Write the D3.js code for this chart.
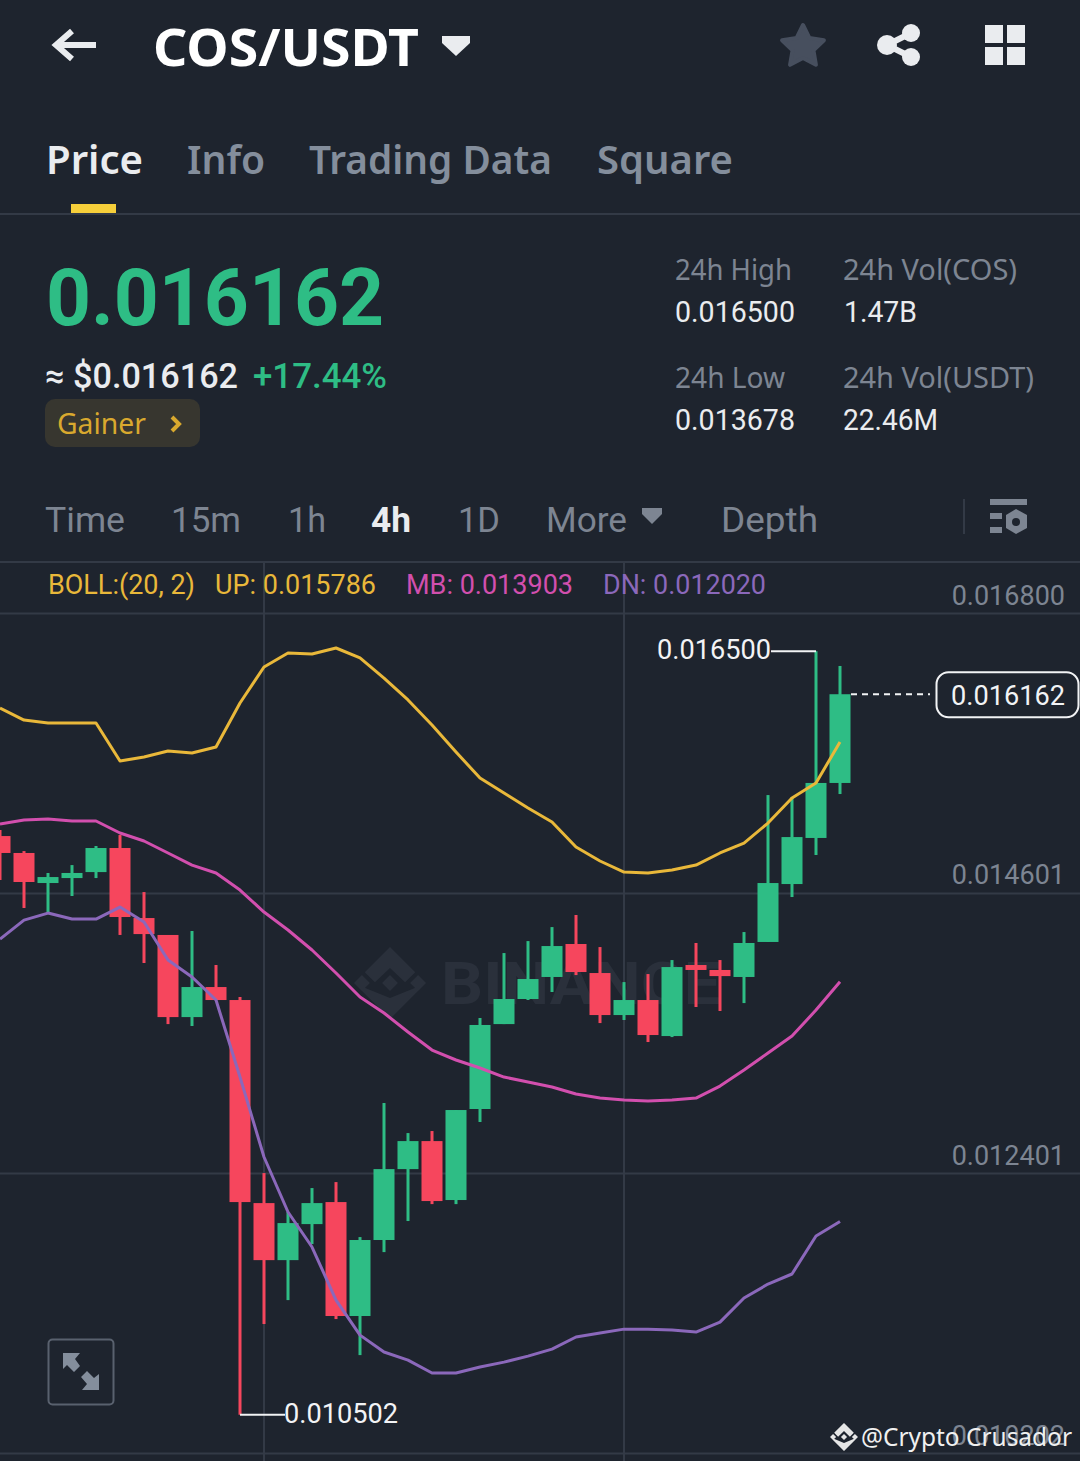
<!DOCTYPE html>
<html>
<head>
<meta charset="utf-8">
<title>COS/USDT</title>
<script src="https://cdnjs.cloudflare.com/ajax/libs/d3/7.8.5/d3.min.js"></script>
<style>
	html, body { margin: 0; padding: 0; background: #1e242e; }
	svg { display: block; }
	text { font-family: Roboto, sans-serif; }
	.ui { font-family: "Noto Sans", sans-serif; }
</style>
</head>
<body>
<svg id="chart" width="1080" height="1461"></svg>
<script>
// all prices are in millionths of a USDT, one entry per 4h candle
let opens = [15048, 14915, 14679, 14718, 14765, 14954, 14404, 14271, 13626, 13862, 13760, 12165, 11717, 12000, 12173, 11278, 11875, 12432, 12652, 12189, 12904, 13571, 13768, 13941, 14200, 13972, 13642, 13760, 13477, 14035, 13996, 13941, 14216, 14671, 15033, 15465]
let highs = [15095, 14930, 14758, 14820, 14970, 15056, 14608, 14271, 14302, 14035, 13784, 12401, 12095, 12283, 12330, 11898, 12951, 12715, 12731, 12896, 13619, 14129, 14223, 14333, 14428, 14176, 13901, 13964, 14074, 14208, 14074, 14294, 15370, 15355, 16500, 16384]
let lows = [14703, 14483, 14443, 14577, 14718, 14271, 14051, 13571, 13556, 13760, 10502, 11215, 11403, 11843, 11254, 10971, 11780, 12024, 12157, 12157, 12802, 13571, 13760, 13823, 13956, 13579, 13603, 13430, 13469, 13705, 13674, 13736, 14216, 14569, 14899, 15378]
let closes = [14915, 14687, 14726, 14758, 14954, 14412, 14278, 13626, 13862, 13760, 12173, 11717, 12008, 12165, 11278, 11875, 12432, 12652, 12181, 12896, 13564, 13768, 13925, 14184, 13980, 13642, 13760, 13485, 14019, 13996, 13948, 14208, 14679, 15040, 15465, 16162]

let bollUp = [16054, 15959, 15936, 15936, 15936, 15637, 15669, 15716, 15700, 15747, 16093, 16376, 16486, 16478, 16525, 16447, 16289, 16117, 15920, 15708, 15504, 15386, 15268, 15158, 14962, 14852, 14765, 14758, 14781, 14820, 14915, 14993, 15150, 15347, 15465, 15786]
let bollMb = [15143, 15174, 15182, 15166, 15166, 15072, 15009, 14915, 14820, 14758, 14624, 14451, 14310, 14153, 13972, 13784, 13658, 13509, 13367, 13289, 13226, 13155, 13116, 13077, 13022, 12990, 12974, 12967, 12974, 12990, 13084, 13210, 13344, 13477, 13681, 13903]
let bollDn = [14239, 14388, 14443, 14396, 14396, 14490, 14373, 14074, 13941, 13760, 13155, 12527, 12095, 11820, 11403, 11128, 10995, 10932, 10830, 10830, 10877, 10916, 10963, 11018, 11113, 11144, 11175, 11175, 11168, 11152, 11230, 11419, 11529, 11608, 11906, 12020]

let priceTicks = [16800, 14601, 12401, 10202]
let timeGridCandles = [11, 26]
let lastPrice = 16162
let highPrice = 16500
let lowPrice = 10502

let colors = {
	bg : '#1e242e',
	grid : '#333a46',
	up : '#2ebd85',
	down : '#f6465d',
	white : '#eaecef',
	grey : '#848e9c',
	axis : '#7d8592',
	yellow : '#e9b83a',
	magenta : '#d24fae',
	purple : '#8b68bb',
	mark : '#2a303b'
}

let svg = d3.select('#chart')

let x = d3.scaleLinear().domain([0, 35]).range([0, 840])
let y = d3.scaleLinear().domain([10202, 16800]).range([1453, 613])

let label = (text, px, py, size, fill, o = {}) => {
	let t = svg.append('text')
		.text(text)
		.attr('x', px)
		.attr('y', py)
		.attr('font-size', size)
		.attr('fill', fill)
		.attr('font-weight', o.weight || 400)
	if(o.ui) t.attr('class', 'ui')
	if(o.len) t.attr('textLength', o.len).attr('lengthAdjust', 'spacingAndGlyphs')
	return t
}

let diamond = (g, cx, cy, r, fill) => {
	// the exchange mark: centre square, two side squares, two chevrons
	let sq = (sx, sy, s) => `M${sx},${sy - s}L${sx + s},${sy}L${sx},${sy + s}L${sx - s},${sy}Z`
	let chev = dir => {
		let a = dir * r, b = dir * r * 0.42, c = dir * r * 0.7
		let w = r * 0.28
		return `M${cx},${cy - a}L${cx + c},${cy - a + c}L${cx + c - w},${cy - a + c + dir * w}L${cx},${cy - b}L${cx - c + w},${cy - a + c + dir * w}L${cx - c},${cy - a + c}Z`
	}
	g.append('path')
		.attr('d', sq(cx, cy, r * 0.22) + sq(cx - r * 0.78, cy, r * 0.22) + sq(cx + r * 0.78, cy, r * 0.22) + chev(1) + chev(-1))
		.attr('fill', fill)
}

// top bar
svg.append('path')
	.attr('d', 'M96,45H60M72,31L56,45L72,59')
	.attr('fill', 'none')
	.attr('stroke', colors.white)
	.attr('stroke-width', 6)
label('COS/USDT', 153, 66, 52, '#ffffff', {weight : 700, ui : true, len : 266})
svg.append('path').attr('d', 'M442,36H470V43L456,56L442,43Z').attr('fill', colors.white)

svg.append('path')
	.attr('d', d3.range(10).map(i => {
		let r = i % 2 ? 11 : 22
		let a = i * Math.PI / 5
		return `${i ? 'L' : 'M'}${803 + r * Math.sin(a)},${47 - r * Math.cos(a)}`
	}).join('') + 'Z')
	.attr('fill', '#474f5e')
	.attr('stroke', '#474f5e')
	.attr('stroke-width', 4)
	.attr('stroke-linejoin', 'round')

svg.append('path')
	.attr('d', 'M911,33L887,45L911,57')
	.attr('fill', 'none')
	.attr('stroke', colors.white)
	.attr('stroke-width', 6)
svg.selectAll('.share-dot')
	.data([[911, 33, 9], [887, 45, 10], [911, 57, 9]])
	.enter()
	.append('circle')
	.attr('class', 'share-dot')
	.attr('cx', d => d[0])
	.attr('cy', d => d[1])
	.attr('r', d => d[2])
	.attr('fill', colors.white)

svg.selectAll('.grid-icon')
	.data([[985, 25], [1007, 25], [985, 47], [1007, 47]])
	.enter()
	.append('rect')
	.attr('class', 'grid-icon')
	.attr('x', d => d[0])
	.attr('y', d => d[1])
	.attr('width', 18)
	.attr('height', 18)
	.attr('fill', colors.white)

// tabs
label('Price', 46, 174, 39, colors.white, {weight : 600, ui : true, len : 97})
label('Info', 187, 174, 39, colors.grey, {weight : 600, ui : true, len : 78})
label('Trading Data', 309, 174, 39, colors.grey, {weight : 600, ui : true, len : 243})
label('Square', 597, 174, 39, colors.grey, {weight : 600, ui : true, len : 136})
svg.append('rect').attr('x', 71).attr('y', 204).attr('width', 45).attr('height', 9).attr('fill', '#f6cf3a')
svg.append('rect').attr('x', 0).attr('y', 213).attr('width', 1080).attr('height', 2).attr('fill', colors.grid)

// price block
label('0.016162', 46, 325, 80, colors.up, {weight : 700, len : 338})
label('≈ $0.016162', 45, 388, 35, colors.white, {weight : 500, len : 193})
label('+17.44%', 253, 388, 35, colors.up, {weight : 500, len : 134})
svg.append('rect').attr('x', 45).attr('y', 399).attr('width', 155).attr('height', 48).attr('rx', 10).attr('fill', '#37362f')
label('Gainer', 57, 434, 29, '#d9a92e', {ui : true, len : 89})
svg.append('path')
	.attr('d', 'M172,417L179,424L172,431')
	.attr('fill', 'none')
	.attr('stroke', '#d9a92e')
	.attr('stroke-width', 4)

label('24h High', 675, 280, 29, colors.axis, {ui : true, len : 117})
label('0.016500', 675, 322, 29, colors.white, {len : 120})
label('24h Vol(COS)', 843, 280, 29, colors.axis, {ui : true, len : 174})
label('1.47B', 844, 322, 29, colors.white, {len : 73})
label('24h Low', 675, 388, 29, colors.axis, {ui : true, len : 110})
label('0.013678', 675, 430, 29, colors.white, {len : 120})
label('24h Vol(USDT)', 843, 388, 29, colors.axis, {ui : true, len : 191})
label('22.46M', 843, 430, 29, colors.white, {len : 95})

// interval row
label('Time', 45, 532, 35, colors.axis, {len : 80})
label('15m', 171, 532, 35, colors.axis, {len : 70})
label('1h', 288, 532, 35, colors.axis, {len : 38})
label('4h', 371, 532, 35, colors.white, {weight : 700, len : 40})
label('1D', 458, 532, 35, colors.axis, {len : 42})
label('More', 546, 532, 35, colors.axis, {len : 81})
svg.append('path').attr('d', 'M642,508H662V514L652,524L642,514Z').attr('fill', colors.axis)
label('Depth', 721, 532, 35, colors.axis, {len : 97})
svg.append('rect').attr('x', 963).attr('y', 499).attr('width', 2).attr('height', 35).attr('fill', colors.grid)
svg.append('path')
	.attr('d', 'M990,499H1027V505H990ZM990,513H1002V519H990ZM990,527H1002V533H990Z')
	.attr('fill', colors.axis)
svg.append('path')
	.attr('d', 'M1016,509L1027,515V528L1016,534L1006,528V515Z')
	.attr('fill', colors.axis)
svg.append('circle').attr('cx', 1016).attr('cy', 522).attr('r', 4).attr('fill', colors.bg)
svg.append('rect').attr('x', 0).attr('y', 561).attr('width', 1080).attr('height', 2).attr('fill', colors.grid)

// chart grid and price axis
let axis = d3.axisLeft(y)
	.tickValues(priceTicks)
	.tickSize(1080)
	.tickFormat(d => (d / 1e6).toFixed(6))

let axisGroup = svg.append('g')
	.attr('transform', 'translate(1080,0)')
	.call(axis)
axisGroup.select('.domain').remove()
axisGroup.selectAll('line').attr('stroke', colors.grid).attr('stroke-width', 2)
axisGroup.selectAll('text')
	.attr('x', -15)
	.attr('dy', -9)
	.attr('font-size', 27)
	.attr('font-family', 'Roboto, sans-serif')
	.attr('fill', colors.axis)

svg.selectAll('.time-grid')
	.data(timeGridCandles)
	.enter()
	.append('line')
	.attr('class', 'time-grid')
	.attr('x1', d => x(d))
	.attr('x2', d => x(d))
	.attr('y1', 563)
	.attr('y2', 1461)
	.attr('stroke', colors.grid)
	.attr('stroke-width', 2)

// watermark sits under the candles
diamond(svg, 390, 983, 36, colors.mark)
label('BINANCE', 441, 1004, 60, colors.mark, {weight : 700, len : 280})

// legend
label('BOLL:(20, 2)', 48, 594, 27, colors.yellow, {len : 147})
label('UP: 0.015786', 215, 594, 27, colors.yellow, {len : 161})
label('MB: 0.013903', 406, 594, 27, colors.magenta, {len : 167})
label('DN: 0.012020', 603, 594, 27, colors.purple, {len : 163})

// candles
let candles = opens.map((o, i) => ({i, o, h : highs[i], l : lows[i], c : closes[i]}))
let candleColor = d => d.c >= d.o ? colors.up : colors.down

let candleGroups = svg.selectAll('.candle')
	.data(candles)
	.enter()
	.append('g')
	.attr('class', 'candle')

candleGroups.append('line')
	.attr('x1', d => x(d.i))
	.attr('x2', d => x(d.i))
	.attr('y1', d => y(d.h))
	.attr('y2', d => y(d.l))
	.attr('stroke', candleColor)
	.attr('stroke-width', 3)

candleGroups.append('rect')
	.attr('x', d => x(d.i) - 10.5)
	.attr('width', 21)
	.attr('y', d => y(Math.max(d.o, d.c)))
	.attr('height', d => Math.abs(y(d.o) - y(d.c)))
	.attr('fill', candleColor)

// bollinger lines
let lineGen = d3.line()
	.x((d, i) => x(i))
	.y(d => y(d))

svg.selectAll('.boll')
	.data([[bollUp, colors.yellow], [bollMb, colors.magenta], [bollDn, colors.purple]])
	.enter()
	.append('path')
	.attr('class', 'boll')
	.attr('d', d => lineGen(d[0]))
	.attr('fill', 'none')
	.attr('stroke', d => d[1])
	.attr('stroke-width', 3)
	.attr('stroke-linejoin', 'round')

// high, low and last price callouts
let callout = '#f2f3f5'
svg.append('path')
	.attr('d', `M771,${y(highPrice)}H${x(34)}`)
	.attr('stroke', callout)
	.attr('stroke-width', 2)
label('0.016500', 657, y(highPrice) + 8, 27, callout, {len : 114})

svg.append('path')
	.attr('d', `M${x(10)},${y(lowPrice)}H285`)
	.attr('stroke', callout)
	.attr('stroke-width', 2)
label('0.010502', 284, y(lowPrice) + 8, 27, callout, {len : 114})

svg.append('line')
	.attr('x1', x(35) + 11)
	.attr('x2', 930)
	.attr('y1', y(lastPrice))
	.attr('y2', y(lastPrice))
	.attr('stroke', callout)
	.attr('stroke-width', 2)
	.attr('stroke-dasharray', '6 5')
svg.append('rect')
	.attr('x', 936.5)
	.attr('y', y(lastPrice) - 22)
	.attr('width', 142)
	.attr('height', 45)
	.attr('rx', 12)
	.attr('fill', colors.bg)
	.attr('stroke', callout)
	.attr('stroke-width', 2)
label('0.016162', 951, y(lastPrice) + 11, 27, callout, {len : 114})

// expand button
svg.append('rect')
	.attr('x', 48.5)
	.attr('y', 1339.5)
	.attr('width', 65)
	.attr('height', 65)
	.attr('rx', 4)
	.attr('fill', 'none')
	.attr('stroke', '#59616e')
	.attr('stroke-width', 2)
svg.append('path')
	.attr('d', 'M63,1353H80L75,1359L80,1366L74,1372L67,1365L63,1369ZM99,1390H82L87,1384L81,1377L87,1371L94,1378L99,1374Z')
	.attr('fill', colors.grey)

// credit
let creditGroup = svg.append('g')
diamond(creditGroup, 844, 1437, 14, '#e6e6e6')
label('@Crypto Crusador', 861, 1446, 26, '#f0f0f0', {ui : true, len : 211})
</script>
</body>
</html>
